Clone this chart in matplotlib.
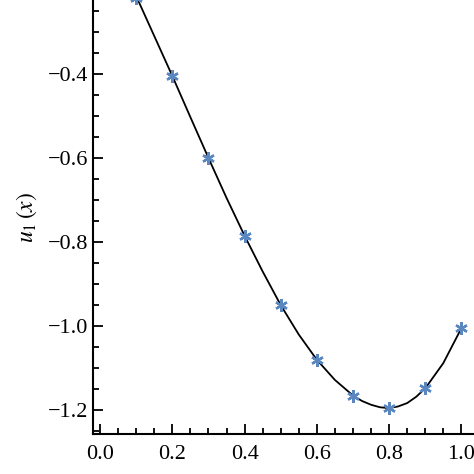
import matplotlib
matplotlib.use("Agg")
import matplotlib.pyplot as plt
from matplotlib.ticker import MultipleLocator

plt.rcParams['font.family'] = ['Liberation Serif', 'DejaVu Serif']
plt.rcParams['mathtext.fontset'] = 'stix'

pts_x = [0.1, 0.2, 0.3, 0.4, 0.5, 0.6, 0.7, 0.8, 0.9, 1.0]
pts_y = [-0.22, -0.405, -0.60, -0.785, -0.95, -1.08, -1.165, -1.195, -1.148, -1.005]

line_x = [0.1, 0.15, 0.2, 0.25, 0.3, 0.35, 0.4, 0.45, 0.5, 0.55, 0.6, 0.65, 0.7, 0.725, 0.75, 0.775, 0.8, 0.825, 0.85, 0.875, 0.9, 0.95, 1.0]
line_y = [-0.215, -0.31, -0.405, -0.503, -0.60, -0.695, -0.785, -0.870, -0.95, -1.020, -1.08, -1.128, -1.165, -1.178, -1.187, -1.193, -1.195, -1.191, -1.183, -1.168, -1.148, -1.088, -1.005]

fig = plt.figure(figsize=(4.74, 4.74), dpi=100)
ax = fig.add_axes([0.196, 0.084, 0.804, 0.916])
ax.plot(line_x, line_y, color='black', lw=1.3)
ax.plot(pts_x, pts_y, linestyle='none', marker=(6, 2, 0), markersize=9,
        markeredgecolor='#5b87c0', markeredgewidth=1.7)
ax.set_xlim(-0.02, 1.035)
ax.set_ylim(-1.257, -0.224)
ax.xaxis.set_major_locator(MultipleLocator(0.2))
ax.xaxis.set_minor_locator(MultipleLocator(0.05))
ax.yaxis.set_major_locator(MultipleLocator(0.2))
ax.yaxis.set_minor_locator(MultipleLocator(0.05))
ax.tick_params(which='both', direction='in', labelsize=16, width=1.3)
ax.tick_params(which='major', length=7)
ax.tick_params(which='minor', length=4)
ax.tick_params(axis='x', pad=8)
for s in ['top', 'right']:
    ax.spines[s].set_visible(False)
for s in ['left', 'bottom']:
    ax.spines[s].set_linewidth(1.5)
ax.xaxis.set_major_formatter(plt.FuncFormatter(lambda v, p: f"{v:.1f}".replace('-', '\u2212')))
ax.yaxis.set_major_formatter(plt.FuncFormatter(lambda v, p: f"{v:.1f}".replace('-', '\u2212')))
ax.set_ylabel(r'$u_1\,(x)$', fontsize=17, labelpad=6)
fig.savefig('out.png', dpi=100)
